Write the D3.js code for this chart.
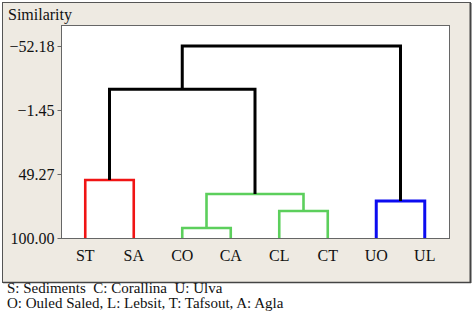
<!DOCTYPE html>
<html>
<head>
<meta charset="utf-8">
<script src="https://cdn.jsdelivr.net/npm/d3@7"></script>
<style>
  html, body { margin: 0; padding: 0; background: #ffffff; }
  svg { display: block; }
  svg text { font-family: "Liberation Serif", "Times New Roman", Times, "DejaVu Serif", serif; fill: #111; }
</style>
</head>
<body>
<svg id="chart" width="474" height="322"></svg>
<script>
// ---- data ----
const leaves = ["ST", "SA", "CO", "CA", "CL", "CT", "UO", "UL"];
const mergeIds    = ["S",   "C1",  "C2",  "C",   "U",   "SC",   "root"];
const mergeLeft   = ["ST",  "CO",  "CL",  "C1",  "UO",  "S",    "SC"];
const mergeRight  = ["SA",  "CA",  "CT",  "C2",  "UL",  "C",    "U"];
const mergeHeight = [54.0,  92.1,  78.6,  65.1,  70.7,  -17.9,  -52.18];
const mergeGroup  = ["S",   "C",   "C",   "C",   "U",   "none", "none"];
const tickValues  = [-52.18, -1.45, 49.27, 100.00];
const leafLevel = 100;
const axisTitle = "Similarity";
const footer = ["S: Sediments  C: Corallina  U: Ulva", "O: Ouled Saled, L: Lebsit, T: Tafsout, A: Agla"];

// ---- layout ----
const FONT = "'Liberation Serif', 'Times New Roman', Times, 'DejaVu Serif', serif";
const svg = d3.select("#chart");
const plot = { x0: 61, y0: 25, x1: 449, y1: 238 };
const groupColor = { S: "#f01414", C: "#5ccf5c", U: "#0c0cf0", none: "#000000" };
const groupWidth = { S: 2.6, C: 2.6, U: 3, none: 3 };

// outer panel
svg.append("rect").attr("x", 2.5).attr("y", 2.5).attr("width", 468).attr("height", 280)
  .attr("fill", "#eeeae2").attr("stroke", "#555").attr("stroke-width", 1);
svg.append("line").attr("x1", 470.5).attr("x2", 470.5).attr("y1", 3).attr("y2", 283)
  .attr("stroke", "#444").attr("stroke-width", 2);
svg.append("line").attr("x1", 3).attr("x2", 471).attr("y1", 282.5).attr("y2", 282.5)
  .attr("stroke", "#444").attr("stroke-width", 1.5);

// plot area
svg.append("rect").attr("x", plot.x0 + 0.5).attr("y", plot.y0 + 0.5)
  .attr("width", plot.x1 - plot.x0).attr("height", plot.y1 - plot.y0)
  .attr("fill", "#ffffff").attr("stroke", "#666").attr("stroke-width", 1);

const x = d3.scalePoint().domain(leaves).range([plot.x0, plot.x1]).padding(0.5);
const y = d3.scaleLinear().domain([-52.18, 100]).range([46, plot.y1]);

// y axis
const yAxis = d3.axisLeft(y).tickValues(tickValues).tickFormat(d3.format(".2f")).tickSize(4).tickPadding(3);
const gy = svg.append("g").attr("transform", `translate(${plot.x0 + 0.5},0)`).call(yAxis)
  .attr("font-family", FONT);
gy.select(".domain").remove();
gy.selectAll(".tick line").attr("stroke", "#666");
gy.selectAll(".tick text").attr("font-size", 16).style("font-family", FONT).attr("fill", "#111");

// axis title
svg.append("text").attr("x", 8).attr("y", 20).attr("font-size", 16).style("font-family", FONT).text(axisTitle);

// leaf labels
svg.append("g").selectAll("text").data(leaves).join("text")
  .attr("x", d => x(d)).attr("y", 261).attr("text-anchor", "middle")
  .attr("font-size", 16).style("font-family", FONT).text(d => d);

// dendrogram
const nodes = {};
leaves.forEach(l => { nodes[l] = { x: x(l), h: leafLevel }; });
mergeIds.forEach((id, i) => {
  const a = nodes[mergeLeft[i]], b = nodes[mergeRight[i]];
  const h = mergeHeight[i];
  const g = mergeGroup[i];
  const path = d3.path();
  path.moveTo(a.x, y(a.h));
  path.lineTo(a.x, y(h));
  path.lineTo(b.x, y(h));
  path.lineTo(b.x, y(b.h));
  svg.append("path").attr("d", path.toString()).attr("fill", "none")
    .attr("stroke", groupColor[g]).attr("stroke-width", groupWidth[g])
    .attr("stroke-linejoin", "miter").attr("stroke-linecap", "butt");
  nodes[id] = { x: (a.x + b.x) / 2, h: h };
});

// footer
svg.append("g").selectAll("text").data(footer).join("text")
  .attr("x", 7).attr("y", (d, i) => 293 + i * 15)
  .attr("font-size", 15).style("font-family", FONT).style("white-space", "pre").text(d => d);
</script>
</body>
</html>
